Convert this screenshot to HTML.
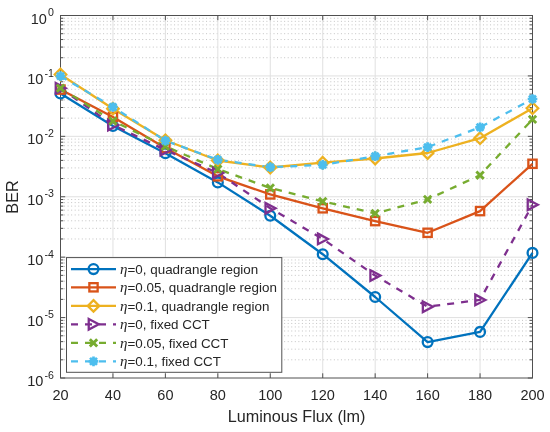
<!DOCTYPE html>
<html><head><meta charset="utf-8"><style>
html,body{margin:0;padding:0;background:#fff;width:550px;height:432px;overflow:hidden}
svg{display:block;filter:blur(0.35px)}
text{font-family:"Liberation Sans",sans-serif;fill:#262626}
</style></head><body>
<svg width="550" height="432" viewBox="0 0 550 432">
<rect width="550" height="432" fill="#fff"/>
<path d="M60.5,57.73H532.5M60.5,47.09H532.5M60.5,39.54H532.5M60.5,33.69H532.5M60.5,28.90H532.5M60.5,24.86H532.5M60.5,21.35H532.5M60.5,18.26H532.5M60.5,118.15H532.5M60.5,107.51H532.5M60.5,99.96H532.5M60.5,94.10H532.5M60.5,89.32H532.5M60.5,85.28H532.5M60.5,81.77H532.5M60.5,78.68H532.5M60.5,178.56H532.5M60.5,167.92H532.5M60.5,160.38H532.5M60.5,154.52H532.5M60.5,149.74H532.5M60.5,145.69H532.5M60.5,142.19H532.5M60.5,139.10H532.5M60.5,238.98H532.5M60.5,228.34H532.5M60.5,220.79H532.5M60.5,214.94H532.5M60.5,210.15H532.5M60.5,206.11H532.5M60.5,202.60H532.5M60.5,199.51H532.5M60.5,299.40H532.5M60.5,288.76H532.5M60.5,281.21H532.5M60.5,275.35H532.5M60.5,270.57H532.5M60.5,266.53H532.5M60.5,263.02H532.5M60.5,259.93H532.5M60.5,359.81H532.5M60.5,349.17H532.5M60.5,341.63H532.5M60.5,335.77H532.5M60.5,330.99H532.5M60.5,326.94H532.5M60.5,323.44H532.5M60.5,320.35H532.5" stroke="#c4c4c4" stroke-width="1" stroke-dasharray="1,2.55" fill="none"/>
<path d="M60.5,75.92H532.5M60.5,136.33H532.5M60.5,196.75H532.5M60.5,257.17H532.5M60.5,317.58H532.5M112.94,15.5V378.0M165.39,15.5V378.0M217.83,15.5V378.0M270.28,15.5V378.0M322.72,15.5V378.0M375.17,15.5V378.0M427.61,15.5V378.0M480.06,15.5V378.0" stroke="#e0e0e0" stroke-width="1" fill="none"/>
<rect x="60.5" y="15.5" width="472.0" height="362.5" fill="none" stroke="#505050" stroke-width="1"/>
<path d="M60.50,378.0v-4.7M60.50,15.5v4.7M112.94,378.0v-4.7M112.94,15.5v4.7M165.39,378.0v-4.7M165.39,15.5v4.7M217.83,378.0v-4.7M217.83,15.5v4.7M270.28,378.0v-4.7M270.28,15.5v4.7M322.72,378.0v-4.7M322.72,15.5v4.7M375.17,378.0v-4.7M375.17,15.5v4.7M427.61,378.0v-4.7M427.61,15.5v4.7M480.06,378.0v-4.7M480.06,15.5v4.7M532.50,378.0v-4.7M532.50,15.5v4.7M60.5,15.50h4.7M532.5,15.50h-4.7M60.5,75.92h4.7M532.5,75.92h-4.7M60.5,136.33h4.7M532.5,136.33h-4.7M60.5,196.75h4.7M532.5,196.75h-4.7M60.5,257.17h4.7M532.5,257.17h-4.7M60.5,317.58h4.7M532.5,317.58h-4.7M60.5,378.00h4.7M532.5,378.00h-4.7M60.5,57.73h2.8M532.5,57.73h-2.8M60.5,47.09h2.8M532.5,47.09h-2.8M60.5,39.54h2.8M532.5,39.54h-2.8M60.5,33.69h2.8M532.5,33.69h-2.8M60.5,28.90h2.8M532.5,28.90h-2.8M60.5,24.86h2.8M532.5,24.86h-2.8M60.5,21.35h2.8M532.5,21.35h-2.8M60.5,18.26h2.8M532.5,18.26h-2.8M60.5,118.15h2.8M532.5,118.15h-2.8M60.5,107.51h2.8M532.5,107.51h-2.8M60.5,99.96h2.8M532.5,99.96h-2.8M60.5,94.10h2.8M532.5,94.10h-2.8M60.5,89.32h2.8M532.5,89.32h-2.8M60.5,85.28h2.8M532.5,85.28h-2.8M60.5,81.77h2.8M532.5,81.77h-2.8M60.5,78.68h2.8M532.5,78.68h-2.8M60.5,178.56h2.8M532.5,178.56h-2.8M60.5,167.92h2.8M532.5,167.92h-2.8M60.5,160.38h2.8M532.5,160.38h-2.8M60.5,154.52h2.8M532.5,154.52h-2.8M60.5,149.74h2.8M532.5,149.74h-2.8M60.5,145.69h2.8M532.5,145.69h-2.8M60.5,142.19h2.8M532.5,142.19h-2.8M60.5,139.10h2.8M532.5,139.10h-2.8M60.5,238.98h2.8M532.5,238.98h-2.8M60.5,228.34h2.8M532.5,228.34h-2.8M60.5,220.79h2.8M532.5,220.79h-2.8M60.5,214.94h2.8M532.5,214.94h-2.8M60.5,210.15h2.8M532.5,210.15h-2.8M60.5,206.11h2.8M532.5,206.11h-2.8M60.5,202.60h2.8M532.5,202.60h-2.8M60.5,199.51h2.8M532.5,199.51h-2.8M60.5,299.40h2.8M532.5,299.40h-2.8M60.5,288.76h2.8M532.5,288.76h-2.8M60.5,281.21h2.8M532.5,281.21h-2.8M60.5,275.35h2.8M532.5,275.35h-2.8M60.5,270.57h2.8M532.5,270.57h-2.8M60.5,266.53h2.8M532.5,266.53h-2.8M60.5,263.02h2.8M532.5,263.02h-2.8M60.5,259.93h2.8M532.5,259.93h-2.8M60.5,359.81h2.8M532.5,359.81h-2.8M60.5,349.17h2.8M532.5,349.17h-2.8M60.5,341.63h2.8M532.5,341.63h-2.8M60.5,335.77h2.8M532.5,335.77h-2.8M60.5,330.99h2.8M532.5,330.99h-2.8M60.5,326.94h2.8M532.5,326.94h-2.8M60.5,323.44h2.8M532.5,323.44h-2.8M60.5,320.35h2.8M532.5,320.35h-2.8" stroke="#505050" stroke-width="1" fill="none"/>
<polyline points="60.50,93.50 112.94,126.00 165.39,153.20 217.83,182.40 270.28,215.70 322.72,254.20 375.17,297.00 427.61,342.10 480.06,331.90 532.50,252.90" fill="none" stroke="#0072BD" stroke-width="2.3" stroke-linejoin="round"/>
<polyline points="60.50,89.60 112.94,117.00 165.39,148.10 217.83,176.30 270.28,194.40 322.72,208.30 375.17,221.10 427.61,232.80 480.06,211.10 532.50,163.80" fill="none" stroke="#D95319" stroke-width="2.3" stroke-linejoin="round"/>
<polyline points="60.50,74.50 112.94,108.70 165.39,140.30 217.83,160.50 270.28,167.50 322.72,162.70 375.17,158.50 427.61,153.00 480.06,138.20 532.50,108.20" fill="none" stroke="#EDB120" stroke-width="2.3" stroke-linejoin="round"/>
<polyline points="60.50,88.30 112.94,125.00 165.39,150.00 217.83,173.00 270.28,208.30 322.72,238.90 375.17,275.60 427.61,306.70 480.06,299.90 532.50,204.80" fill="none" stroke="#7E2F8E" stroke-width="2.3" stroke-dasharray="7,7" stroke-linejoin="round"/>
<polyline points="60.50,88.20 112.94,121.00 165.39,146.30 217.83,169.10 270.28,188.00 322.72,201.40 375.17,213.40 427.61,199.40 480.06,175.20 532.50,119.40" fill="none" stroke="#77AC30" stroke-width="2.3" stroke-dasharray="7,7" stroke-linejoin="round"/>
<polyline points="60.50,76.10 112.94,107.00 165.39,140.70 217.83,159.80 270.28,167.20 322.72,164.90 375.17,156.20 427.61,147.10 480.06,127.30 532.50,99.00" fill="none" stroke="#4DBEEE" stroke-width="2.3" stroke-dasharray="7,7" stroke-linejoin="round"/>
<circle cx="60.50" cy="93.50" r="4.90" fill="none" stroke="#0072BD" stroke-width="2.3"/>
<circle cx="112.94" cy="126.00" r="4.90" fill="none" stroke="#0072BD" stroke-width="2.3"/>
<circle cx="165.39" cy="153.20" r="4.90" fill="none" stroke="#0072BD" stroke-width="2.3"/>
<circle cx="217.83" cy="182.40" r="4.90" fill="none" stroke="#0072BD" stroke-width="2.3"/>
<circle cx="270.28" cy="215.70" r="4.90" fill="none" stroke="#0072BD" stroke-width="2.3"/>
<circle cx="322.72" cy="254.20" r="4.90" fill="none" stroke="#0072BD" stroke-width="2.3"/>
<circle cx="375.17" cy="297.00" r="4.90" fill="none" stroke="#0072BD" stroke-width="2.3"/>
<circle cx="427.61" cy="342.10" r="4.90" fill="none" stroke="#0072BD" stroke-width="2.3"/>
<circle cx="480.06" cy="331.90" r="4.90" fill="none" stroke="#0072BD" stroke-width="2.3"/>
<circle cx="532.50" cy="252.90" r="4.90" fill="none" stroke="#0072BD" stroke-width="2.3"/>
<rect x="56.36" y="85.46" width="8.28" height="8.28" fill="none" stroke="#D95319" stroke-width="2.3"/>
<rect x="108.80" y="112.86" width="8.28" height="8.28" fill="none" stroke="#D95319" stroke-width="2.3"/>
<rect x="161.25" y="143.96" width="8.28" height="8.28" fill="none" stroke="#D95319" stroke-width="2.3"/>
<rect x="213.69" y="172.16" width="8.28" height="8.28" fill="none" stroke="#D95319" stroke-width="2.3"/>
<rect x="266.14" y="190.26" width="8.28" height="8.28" fill="none" stroke="#D95319" stroke-width="2.3"/>
<rect x="318.58" y="204.16" width="8.28" height="8.28" fill="none" stroke="#D95319" stroke-width="2.3"/>
<rect x="371.03" y="216.96" width="8.28" height="8.28" fill="none" stroke="#D95319" stroke-width="2.3"/>
<rect x="423.47" y="228.66" width="8.28" height="8.28" fill="none" stroke="#D95319" stroke-width="2.3"/>
<rect x="475.92" y="206.96" width="8.28" height="8.28" fill="none" stroke="#D95319" stroke-width="2.3"/>
<rect x="528.36" y="159.66" width="8.28" height="8.28" fill="none" stroke="#D95319" stroke-width="2.3"/>
<path d="M60.50,68.75L66.25,74.50L60.50,80.25L54.75,74.50Z" fill="none" stroke="#EDB120" stroke-width="2.3" stroke-linejoin="miter"/>
<path d="M112.94,102.95L118.69,108.70L112.94,114.45L107.19,108.70Z" fill="none" stroke="#EDB120" stroke-width="2.3" stroke-linejoin="miter"/>
<path d="M165.39,134.55L171.14,140.30L165.39,146.05L159.64,140.30Z" fill="none" stroke="#EDB120" stroke-width="2.3" stroke-linejoin="miter"/>
<path d="M217.83,154.75L223.58,160.50L217.83,166.25L212.08,160.50Z" fill="none" stroke="#EDB120" stroke-width="2.3" stroke-linejoin="miter"/>
<path d="M270.28,161.75L276.03,167.50L270.28,173.25L264.53,167.50Z" fill="none" stroke="#EDB120" stroke-width="2.3" stroke-linejoin="miter"/>
<path d="M322.72,156.95L328.47,162.70L322.72,168.45L316.97,162.70Z" fill="none" stroke="#EDB120" stroke-width="2.3" stroke-linejoin="miter"/>
<path d="M375.17,152.75L380.92,158.50L375.17,164.25L369.42,158.50Z" fill="none" stroke="#EDB120" stroke-width="2.3" stroke-linejoin="miter"/>
<path d="M427.61,147.25L433.36,153.00L427.61,158.75L421.86,153.00Z" fill="none" stroke="#EDB120" stroke-width="2.3" stroke-linejoin="miter"/>
<path d="M480.06,132.45L485.81,138.20L480.06,143.95L474.31,138.20Z" fill="none" stroke="#EDB120" stroke-width="2.3" stroke-linejoin="miter"/>
<path d="M532.50,102.45L538.25,108.20L532.50,113.95L526.75,108.20Z" fill="none" stroke="#EDB120" stroke-width="2.3" stroke-linejoin="miter"/>
<path d="M55.74,83.01L65.79,88.30L55.74,93.59Z" fill="none" stroke="#7E2F8E" stroke-width="2.3" stroke-linejoin="miter"/>
<path d="M108.18,119.71L118.23,125.00L108.18,130.29Z" fill="none" stroke="#7E2F8E" stroke-width="2.3" stroke-linejoin="miter"/>
<path d="M160.63,144.71L170.68,150.00L160.63,155.29Z" fill="none" stroke="#7E2F8E" stroke-width="2.3" stroke-linejoin="miter"/>
<path d="M213.07,167.71L223.12,173.00L213.07,178.29Z" fill="none" stroke="#7E2F8E" stroke-width="2.3" stroke-linejoin="miter"/>
<path d="M265.52,203.01L275.57,208.30L265.52,213.59Z" fill="none" stroke="#7E2F8E" stroke-width="2.3" stroke-linejoin="miter"/>
<path d="M317.96,233.61L328.01,238.90L317.96,244.19Z" fill="none" stroke="#7E2F8E" stroke-width="2.3" stroke-linejoin="miter"/>
<path d="M370.41,270.31L380.46,275.60L370.41,280.89Z" fill="none" stroke="#7E2F8E" stroke-width="2.3" stroke-linejoin="miter"/>
<path d="M422.85,301.41L432.90,306.70L422.85,311.99Z" fill="none" stroke="#7E2F8E" stroke-width="2.3" stroke-linejoin="miter"/>
<path d="M475.29,294.61L485.35,299.90L475.29,305.19Z" fill="none" stroke="#7E2F8E" stroke-width="2.3" stroke-linejoin="miter"/>
<path d="M527.74,199.51L537.79,204.80L527.74,210.09Z" fill="none" stroke="#7E2F8E" stroke-width="2.3" stroke-linejoin="miter"/>
<path d="M56.82,84.52L64.18,91.88M56.82,91.88L64.18,84.52" stroke="#77AC30" stroke-width="2.9" fill="none"/>
<path d="M109.26,117.32L116.62,124.68M109.26,124.68L116.62,117.32" stroke="#77AC30" stroke-width="2.9" fill="none"/>
<path d="M161.71,142.62L169.07,149.98M161.71,149.98L169.07,142.62" stroke="#77AC30" stroke-width="2.9" fill="none"/>
<path d="M214.15,165.42L221.51,172.78M214.15,172.78L221.51,165.42" stroke="#77AC30" stroke-width="2.9" fill="none"/>
<path d="M266.60,184.32L273.96,191.68M266.60,191.68L273.96,184.32" stroke="#77AC30" stroke-width="2.9" fill="none"/>
<path d="M319.04,197.72L326.40,205.08M319.04,205.08L326.40,197.72" stroke="#77AC30" stroke-width="2.9" fill="none"/>
<path d="M371.49,209.72L378.85,217.08M371.49,217.08L378.85,209.72" stroke="#77AC30" stroke-width="2.9" fill="none"/>
<path d="M423.93,195.72L431.29,203.08M423.93,203.08L431.29,195.72" stroke="#77AC30" stroke-width="2.9" fill="none"/>
<path d="M476.38,171.52L483.74,178.88M476.38,178.88L483.74,171.52" stroke="#77AC30" stroke-width="2.9" fill="none"/>
<path d="M528.82,115.72L536.18,123.08M528.82,123.08L536.18,115.72" stroke="#77AC30" stroke-width="2.9" fill="none"/>
<path d="M55.67,76.10L65.33,76.10M60.50,71.27L60.50,80.93M57.02,72.62L63.98,79.58M57.02,79.58L63.98,72.62" stroke="#4DBEEE" stroke-width="2.6999999999999997" fill="none"/><circle cx="60.50" cy="76.10" r="3.38" fill="#4DBEEE"/>
<path d="M108.11,107.00L117.77,107.00M112.94,102.17L112.94,111.83M109.47,103.52L116.42,110.48M109.47,110.48L116.42,103.52" stroke="#4DBEEE" stroke-width="2.6999999999999997" fill="none"/><circle cx="112.94" cy="107.00" r="3.38" fill="#4DBEEE"/>
<path d="M160.56,140.70L170.22,140.70M165.39,135.87L165.39,145.53M161.91,137.22L168.87,144.18M161.91,144.18L168.87,137.22" stroke="#4DBEEE" stroke-width="2.6999999999999997" fill="none"/><circle cx="165.39" cy="140.70" r="3.38" fill="#4DBEEE"/>
<path d="M213.00,159.80L222.66,159.80M217.83,154.97L217.83,164.63M214.36,156.32L221.31,163.28M214.36,163.28L221.31,156.32" stroke="#4DBEEE" stroke-width="2.6999999999999997" fill="none"/><circle cx="217.83" cy="159.80" r="3.38" fill="#4DBEEE"/>
<path d="M265.45,167.20L275.11,167.20M270.28,162.37L270.28,172.03M266.80,163.72L273.76,170.68M266.80,170.68L273.76,163.72" stroke="#4DBEEE" stroke-width="2.6999999999999997" fill="none"/><circle cx="270.28" cy="167.20" r="3.38" fill="#4DBEEE"/>
<path d="M317.89,164.90L327.55,164.90M322.72,160.07L322.72,169.73M319.24,161.42L326.20,168.38M319.24,168.38L326.20,161.42" stroke="#4DBEEE" stroke-width="2.6999999999999997" fill="none"/><circle cx="322.72" cy="164.90" r="3.38" fill="#4DBEEE"/>
<path d="M370.34,156.20L380.00,156.20M375.17,151.37L375.17,161.03M371.69,152.72L378.64,159.68M371.69,159.68L378.64,152.72" stroke="#4DBEEE" stroke-width="2.6999999999999997" fill="none"/><circle cx="375.17" cy="156.20" r="3.38" fill="#4DBEEE"/>
<path d="M422.78,147.10L432.44,147.10M427.61,142.27L427.61,151.93M424.13,143.62L431.09,150.58M424.13,150.58L431.09,143.62" stroke="#4DBEEE" stroke-width="2.6999999999999997" fill="none"/><circle cx="427.61" cy="147.10" r="3.38" fill="#4DBEEE"/>
<path d="M475.23,127.30L484.89,127.30M480.06,122.47L480.06,132.13M476.58,123.82L483.53,130.78M476.58,130.78L483.53,123.82" stroke="#4DBEEE" stroke-width="2.6999999999999997" fill="none"/><circle cx="480.06" cy="127.30" r="3.38" fill="#4DBEEE"/>
<path d="M527.67,99.00L537.33,99.00M532.50,94.17L532.50,103.83M529.02,95.52L535.98,102.48M529.02,102.48L535.98,95.52" stroke="#4DBEEE" stroke-width="2.6999999999999997" fill="none"/><circle cx="532.50" cy="99.00" r="3.38" fill="#4DBEEE"/>
<text x="60.50" y="400" text-anchor="middle" font-size="14.5">20</text>
<text x="112.94" y="400" text-anchor="middle" font-size="14.5">40</text>
<text x="165.39" y="400" text-anchor="middle" font-size="14.5">60</text>
<text x="217.83" y="400" text-anchor="middle" font-size="14.5">80</text>
<text x="270.28" y="400" text-anchor="middle" font-size="14.5">100</text>
<text x="322.72" y="400" text-anchor="middle" font-size="14.5">120</text>
<text x="375.17" y="400" text-anchor="middle" font-size="14.5">140</text>
<text x="427.61" y="400" text-anchor="middle" font-size="14.5">160</text>
<text x="480.06" y="400" text-anchor="middle" font-size="14.5">180</text>
<text x="532.50" y="400" text-anchor="middle" font-size="14.5">200</text>
<text x="54" y="23.60" text-anchor="end" font-size="14.5">10<tspan font-size="10.6" dx="1.2" dy="-7.5">0</tspan></text>
<text x="54" y="84.02" text-anchor="end" font-size="14.5">10<tspan font-size="10.6" dx="1.2" dy="-7.5">-1</tspan></text>
<text x="54" y="144.43" text-anchor="end" font-size="14.5">10<tspan font-size="10.6" dx="1.2" dy="-7.5">-2</tspan></text>
<text x="54" y="204.85" text-anchor="end" font-size="14.5">10<tspan font-size="10.6" dx="1.2" dy="-7.5">-3</tspan></text>
<text x="54" y="265.27" text-anchor="end" font-size="14.5">10<tspan font-size="10.6" dx="1.2" dy="-7.5">-4</tspan></text>
<text x="54" y="325.68" text-anchor="end" font-size="14.5">10<tspan font-size="10.6" dx="1.2" dy="-7.5">-5</tspan></text>
<text x="54" y="386.10" text-anchor="end" font-size="14.5">10<tspan font-size="10.6" dx="1.2" dy="-7.5">-6</tspan></text>
<text x="296.5" y="422.1" text-anchor="middle" font-size="16.2">Luminous Flux (lm)</text>
<text transform="translate(18.4,197) rotate(-90)" text-anchor="middle" font-size="16.2">BER</text>
<rect x="66.5" y="257.6" width="215.3" height="114.7" fill="#fff" stroke="#505050" stroke-width="1"/>
<path d="M71,269.1H116" stroke="#0072BD" stroke-width="2.3" fill="none"/>
<circle cx="93.50" cy="269.10" r="4.90" fill="none" stroke="#0072BD" stroke-width="2.3"/>
<text x="120.1" y="273.7" font-size="13.4"><tspan font-family="Liberation Serif" font-style="italic" font-size="15">&#951;</tspan>=0, quadrangle region</text>
<path d="M71,287.3H116" stroke="#D95319" stroke-width="2.3" fill="none"/>
<rect x="89.36" y="283.16" width="8.28" height="8.28" fill="none" stroke="#D95319" stroke-width="2.3"/>
<text x="120.1" y="291.9" font-size="13.4"><tspan font-family="Liberation Serif" font-style="italic" font-size="15">&#951;</tspan>=0.05, quadrangle region</text>
<path d="M71,305.9H116" stroke="#EDB120" stroke-width="2.3" fill="none"/>
<path d="M93.50,300.15L99.25,305.90L93.50,311.65L87.75,305.90Z" fill="none" stroke="#EDB120" stroke-width="2.3" stroke-linejoin="miter"/>
<text x="120.1" y="310.5" font-size="13.4"><tspan font-family="Liberation Serif" font-style="italic" font-size="15">&#951;</tspan>=0.1, quadrangle region</text>
<path d="M71,324.3H116" stroke="#7E2F8E" stroke-width="2.3" stroke-dasharray="7,7" fill="none"/>
<path d="M88.74,319.01L98.79,324.30L88.74,329.59Z" fill="none" stroke="#7E2F8E" stroke-width="2.3" stroke-linejoin="miter"/>
<text x="120.1" y="328.9" font-size="13.4"><tspan font-family="Liberation Serif" font-style="italic" font-size="15">&#951;</tspan>=0, fixed CCT</text>
<path d="M71,342.9H116" stroke="#77AC30" stroke-width="2.3" stroke-dasharray="7,7" fill="none"/>
<path d="M89.82,339.22L97.18,346.58M89.82,346.58L97.18,339.22" stroke="#77AC30" stroke-width="2.9" fill="none"/>
<text x="120.1" y="347.5" font-size="13.4"><tspan font-family="Liberation Serif" font-style="italic" font-size="15">&#951;</tspan>=0.05, fixed CCT</text>
<path d="M71,361.4H116" stroke="#4DBEEE" stroke-width="2.3" stroke-dasharray="7,7" fill="none"/>
<path d="M88.67,361.40L98.33,361.40M93.50,356.57L93.50,366.23M90.02,357.92L96.98,364.88M90.02,364.88L96.98,357.92" stroke="#4DBEEE" stroke-width="2.6999999999999997" fill="none"/><circle cx="93.50" cy="361.40" r="3.38" fill="#4DBEEE"/>
<text x="120.1" y="366.0" font-size="13.4"><tspan font-family="Liberation Serif" font-style="italic" font-size="15">&#951;</tspan>=0.1, fixed CCT</text>
</svg>
</body></html>
